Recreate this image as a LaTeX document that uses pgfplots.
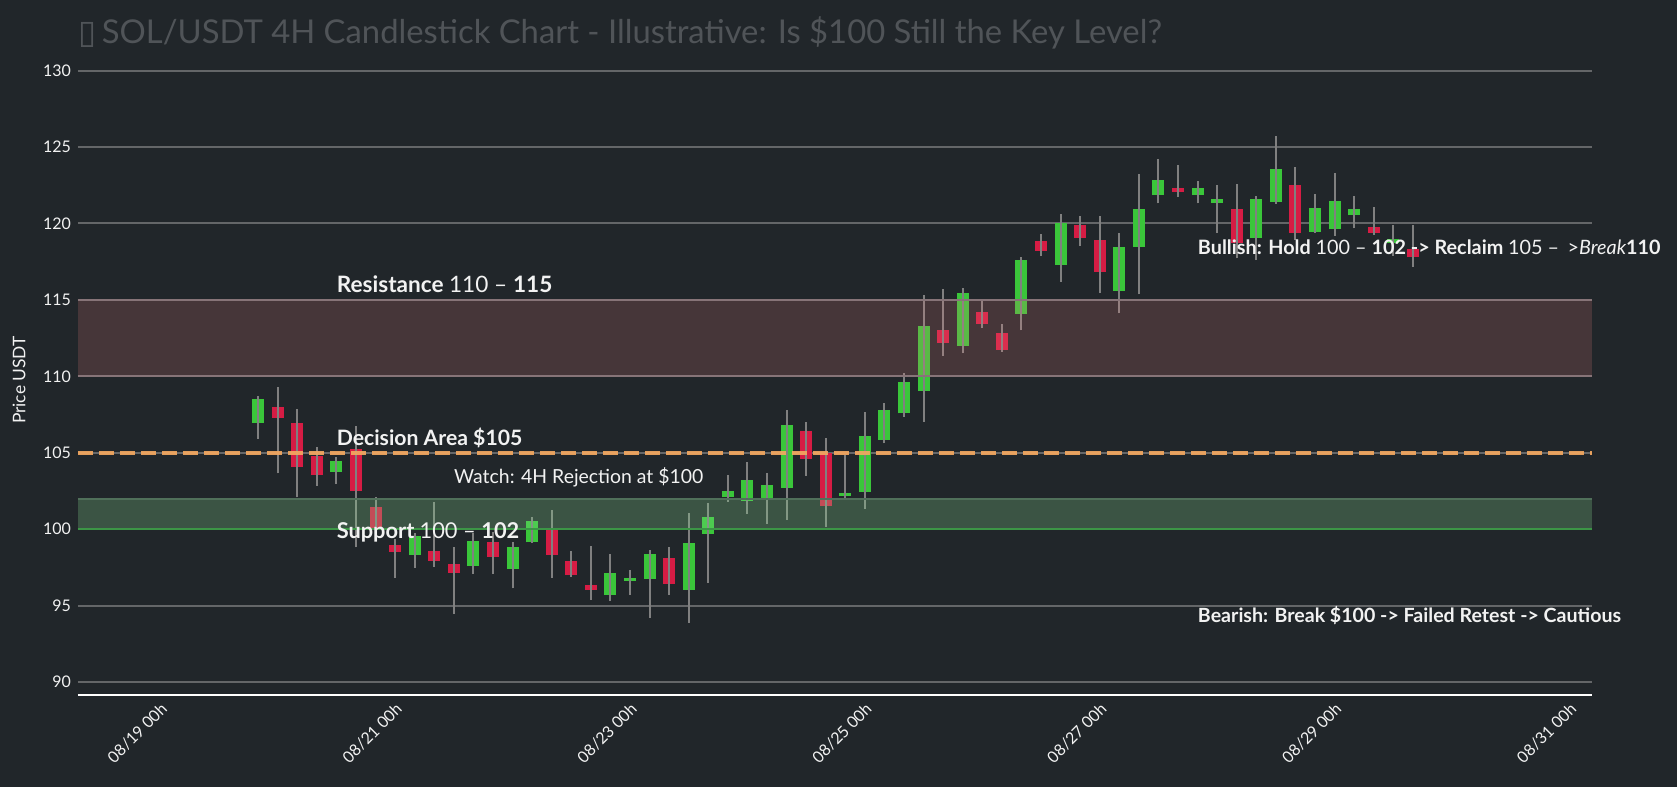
\documentclass[border=0pt]{standalone}
\usepackage{pgfplots}
\pgfplotsset{compat=1.18}
\usepackage{pgfplotstable}
\usepackage{fontspec}
\setmainfont{Lato}
\newfontfamily\dejavu{DejaVu Sans}
\definecolor{bgc}{RGB}{33,38,42}
\definecolor{gridc}{RGB}{100,102,104}
\definecolor{cgreen}{RGB}{58,198,58}
\definecolor{cred}{RGB}{214,28,68}
\definecolor{wickc}{RGB}{128,128,128}
\definecolor{resfill}{RGB}{240,128,128}
\definecolor{resedge}{RGB}{135,116,120}
\definecolor{supfill}{RGB}{137,222,146}
\definecolor{supedge}{RGB}{60,150,70}
\definecolor{supedgetop}{RGB}{80,112,90}
\definecolor{orangec}{RGB}{244,168,96}
\definecolor{txtc}{RGB}{242,242,242}
\definecolor{titlec}{RGB}{80,84,88}

% t = hours after 08/19 00h
\pgfplotstableread{
t o h l c
16 106.97 108.72 105.93 108.50
20 108.02 109.28 103.66 107.30
24 106.93 107.85 102.09 104.09
28 104.79 105.36 102.85 103.55
32 103.77 104.71 102.96 104.49
36 105.25 106.76 98.82 102.53
40 101.48 102.09 99.80 99.95
44 98.97 99.34 96.80 98.54
48 98.32 99.74 97.49 99.56
52 98.60 101.81 97.56 97.95
56 97.73 98.82 94.45 97.16
60 97.60 99.74 97.10 99.23
64 99.19 99.80 97.10 98.20
68 97.41 99.19 96.14 98.87
72 99.15 100.83 99.13 100.57
76 100.07 101.27 96.84 98.32
80 97.93 98.59 96.90 97.01
84 96.36 98.93 95.40 96.03
88 95.71 98.39 95.30 97.15
92 96.62 97.34 95.71 96.80
96 96.75 98.65 94.20 98.39
100 98.13 98.87 95.70 96.43
104 96.03 101.05 93.90 99.13
108 99.70 101.70 96.50 100.83
112 102.09 103.55 101.81 102.53
116 101.87 104.38 101.00 103.19
120 101.92 103.66 100.35 102.90
124 102.72 107.80 100.60 106.82
128 106.43 106.99 103.50 104.62
132 104.97 105.95 100.14 101.52
136 102.20 104.86 101.90 102.40
140 102.46 107.65 101.35 106.10
144 105.84 108.24 105.62 107.80
148 107.58 110.20 107.36 109.63
152 109.04 115.32 107.04 113.29
156 113.03 115.69 111.35 112.20
160 111.99 115.76 111.50 115.47
164 114.23 114.95 113.18 113.42
168 112.84 113.40 111.60 111.72
172 114.08 117.83 113.00 117.61
176 118.85 119.29 117.87 118.20
180 117.29 120.62 116.20 120.05
184 119.90 120.49 118.53 119.07
188 118.92 120.49 115.48 116.85
192 115.61 119.36 114.12 118.44
196 118.48 123.24 115.37 120.95
200 121.86 124.22 121.32 122.84
204 122.30 123.83 121.75 122.08
208 121.86 122.78 121.32 122.30
212 121.36 122.52 119.40 121.60
216 120.95 122.58 117.72 118.74
220 119.07 121.80 117.61 121.60
224 121.42 125.72 121.27 123.54
228 122.51 123.67 118.95 119.40
232 119.46 121.90 119.40 120.99
236 119.62 123.28 119.20 121.47
240 120.55 121.80 119.68 120.95
244 119.75 121.06 119.25 119.40
248 118.75 119.90 117.90 118.97
252 118.31 119.90 117.18 117.79
}\candles

% rising candles
\pgfplotstableread{
t o c
16 106.97 108.50
32 103.77 104.49
48 98.32 99.56
60 97.60 99.23
68 97.41 98.87
72 99.15 100.57
88 95.71 97.15
92 96.62 96.80
96 96.75 98.39
104 96.03 99.13
108 99.70 100.83
112 102.09 102.53
116 101.87 103.19
120 101.92 102.90
124 102.72 106.82
136 102.20 102.40
140 102.46 106.10
144 105.84 107.80
148 107.58 109.63
152 109.04 113.29
160 111.99 115.47
172 114.08 117.61
180 117.29 120.05
192 115.61 118.44
196 118.48 120.95
200 121.86 122.84
208 121.86 122.30
212 121.36 121.60
220 119.07 121.60
224 121.42 123.54
232 119.46 120.99
236 119.62 121.47
240 120.55 120.95
248 118.75 118.97
}\upc

% falling candles
\pgfplotstableread{
t o c
20 108.02 107.30
24 106.93 104.09
28 104.79 103.55
36 105.25 102.53
40 101.48 99.95
44 98.97 98.54
52 98.60 97.95
56 97.73 97.16
64 99.19 98.20
76 100.07 98.32
80 97.93 97.01
84 96.36 96.03
100 98.13 96.43
128 106.43 104.62
132 104.97 101.52
156 113.03 112.20
164 114.23 113.42
168 112.84 111.72
176 118.85 118.20
184 119.90 119.07
188 118.92 116.85
204 122.30 122.08
216 120.95 118.74
228 122.51 119.40
244 119.75 119.40
252 118.31 117.79
}\downc

\begin{document}
\begin{tikzpicture}
\fill[bgc] (-39pt,-46pt) rectangle (799.5pt,347.5pt);
\begin{axis}[
  at={(0,0)}, anchor=south west,
  scale only axis,
  width=756.75pt, height=319.85pt,
  xmin=-20.8, xmax=288.5,
  ymin=89.16, ymax=131,
  clip=false,
  axis x line*=bottom, axis y line*=left,
  x axis line style={draw=white, line width=1pt},
  y axis line style={draw=none},
  tick style={draw=none},
  ymajorgrids,
  grid style={draw=gridc, line width=1pt},
  ytick={90,95,...,130},
  xtick={0,48,96,144,192,240,288},
  xticklabels={08/19 00h,08/21 00h,08/23 00h,08/25 00h,08/27 00h,08/29 00h,08/31 00h},
  /pgf/number format/assume math mode=true,
  yticklabel style={text=txtc, font=\fontsize{8}{9}\selectfont},
  xticklabel style={text=txtc, font=\fontsize{8}{9}\selectfont, xshift=-10pt, yshift=1.5pt, rotate=45, anchor=north east},
]
% bodies
\addplot[draw=none, mark=none, forget plot,
  error bars/.cd, y dir=plus, y explicit, error mark=none,
  error bar style={draw=cgreen, line width=6pt}]
  table[x=t, y=o, y error plus expr=\thisrow{c}-\thisrow{o}] {\upc};
\addplot[draw=none, mark=none, forget plot,
  error bars/.cd, y dir=plus, y explicit, error mark=none,
  error bar style={draw=cred, line width=6pt}]
  table[x=t, y=c, y error plus expr=\thisrow{o}-\thisrow{c}] {\downc};
% wicks
\addplot[draw=none, mark=none, forget plot,
  error bars/.cd, y dir=plus, y explicit, error mark=none,
  error bar style={draw=wickc, line width=1pt}]
  table[x=t, y=l, y error plus expr=\thisrow{h}-\thisrow{l}] {\candles};
% bands
\addplot[draw=none, fill=resfill, fill opacity=0.18, forget plot]
  coordinates {(-20.8,110) (288.5,110) (288.5,115) (-20.8,115)} -- cycle;
\addplot[draw=none, fill=supfill, fill opacity=0.25, forget plot]
  coordinates {(-20.8,100) (288.5,100) (288.5,102) (-20.8,102)} -- cycle;
\addplot[draw=resedge, line width=1pt, forget plot] coordinates {(-20.8,110) (288.5,110)};
\addplot[draw=resedge, line width=1pt, forget plot] coordinates {(-20.8,115) (288.5,115)};
\addplot[draw=supedge, line width=1pt, forget plot] coordinates {(-20.8,100) (288.5,100)};
\addplot[draw=supedgetop, line width=1pt, forget plot] coordinates {(-20.8,102) (288.5,102)};
% decision line
\addplot[draw=orangec, line width=1.8pt, dash pattern=on 7.5pt off 3pt, draw opacity=0.92, forget plot]
  coordinates {(-20.8,105) (288.5,105)};
% annotations
\node[anchor=base west, inner sep=0pt, text=txtc, font=\bfseries\fontsize{11.3}{12}\selectfont] at (axis cs:32,115.5) {Resistance {\mdseries 110 – }115};
\node[anchor=base west, inner sep=0pt, text=txtc, font=\bfseries\fontsize{10.6}{12}\selectfont] at (axis cs:32,105.45) {Decision Area \$105};
\node[anchor=base west, inner sep=0pt, text=txtc, font=\bfseries\fontsize{10.9}{12}\selectfont] at (axis cs:32,99.4) {Support {\mdseries 100 – }102};
\node[anchor=base west, inner sep=0pt, text=txtc, font=\fontsize{9.7}{11}\selectfont] at (axis cs:56,103.0) {Watch: 4H Rejection at \$100};
\node[anchor=base west, text=txtc, font=\bfseries\fontsize{9.9}{11}\selectfont, inner sep=0pt] at (axis cs:208,118.0) {Bullish: Hold {\mdseries 100 – }102 -> Reclaim {\mdseries 105 – \,>\itshape Break}110};
\node[anchor=base west, text=txtc, font=\bfseries\fontsize{9.8}{11}\selectfont, inner sep=0pt] at (axis cs:208,93.9) {Bearish: Break \$100 -> Failed Retest -> Cautious};
\end{axis}
\node[anchor=base west, inner sep=0pt, text=titlec, font=\fontsize{16.4}{18}\selectfont] at (0pt,325.5pt) {{\dejavu ▯}\,SOL/USDT 4H Candlestick Chart - Illustrative: Is \$100 Still the Key Level?};
\node[rotate=90, text=txtc, font=\fontsize{8.7}{10}\selectfont] at (-29.5pt,157.5pt) {Price USDT};
\pgfresetboundingbox
\path (-39pt,-46pt) rectangle (799.5pt,347.5pt);
\end{tikzpicture}
\end{document}
